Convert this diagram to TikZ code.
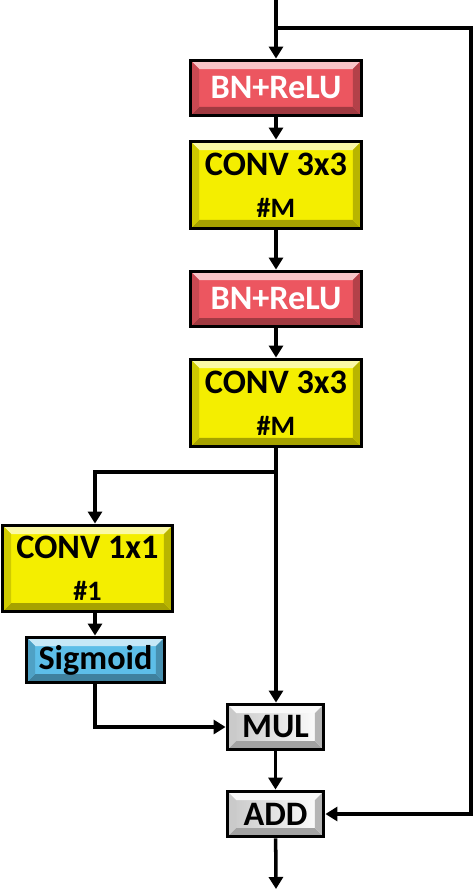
\documentclass[tikz,border=0pt]{standalone}
\usepackage{fontspec}
\setmainfont{Carlito}
\usepackage{tikz}
\usetikzlibrary{arrows.meta,positioning}
\definecolor{bnred}{HTML}{EC5660}
\definecolor{convyellow}{HTML}{F4EE00}
\definecolor{sigblue}{HTML}{5DBEE8}
\definecolor{opgray}{HTML}{EEEEEE}
\newcommand{\chn}[1]{{\fontsize{16}{18}\selectfont #1}}
\def\bw{0.17cm}
\tikzset{
  bevel/.style={path picture={
    \path (path picture bounding box.north west) coordinate (bvA)
          (path picture bounding box.north east) coordinate (bvB)
          (path picture bounding box.south east) coordinate (bvC)
          (path picture bounding box.south west) coordinate (bvD);
    \fill[#1!35!white] (bvA) -- (bvB) -- ([shift={(-\bw,-\bw)}]bvB) -- ([shift={(\bw,-\bw)}]bvA) -- cycle;
    \fill[#1!68!black] (bvD) -- (bvC) -- ([shift={(-\bw,\bw)}]bvC) -- ([shift={(\bw,\bw)}]bvD) -- cycle;
    \fill[#1!85!black] (bvA) -- (bvD) -- ([shift={(\bw,\bw)}]bvD) -- ([shift={(\bw,-\bw)}]bvA) -- cycle;
    \fill[#1!76!black] (bvB) -- (bvC) -- ([shift={(-\bw,\bw)}]bvC) -- ([shift={(-\bw,-\bw)}]bvB) -- cycle;
  }},
  block/.style={draw,line width=2.2pt,fill=#1,bevel=#1,inner sep=0pt,align=center,
    font=\fontsize{19.5}{24}\selectfont\bfseries},
  bnbox/.style={block=bnred,minimum width=3.42cm,minimum height=1.10cm,text=white},
  convbox/.style={block=convyellow,minimum width=3.42cm,minimum height=1.74cm},
  sigbox/.style={block=sigblue,minimum width=2.76cm,minimum height=0.90cm},
  opbox/.style={block=opgray,minimum width=1.92cm,minimum height=0.90cm}
}
\tikzstyle{arrow} = [line width=2pt,-{Triangle[length=0.24cm,width=0.28cm]}]

\begin{document}
\begin{tikzpicture}[x=0.02cm,y=-0.02cm]
  \useasboundingbox (0,0) rectangle (474,889);
  % main path
  \node[bnbox] (bn1) at (276,88) {BN+ReLU};
  \node[convbox] (conv1) at (276,185) {CONV 3x3\\\chn{\#M}};
  \node[bnbox] (bn2) at (276,299) {BN+ReLU};
  \node[convbox] (conv2) at (276,403) {CONV 3x3\\\chn{\#M}};
  % attention branch
  \node[convbox,minimum width=3.40cm,minimum height=1.72cm] (conv11) at (87.5,568.5) {CONV 1x1\\\chn{\#1}};
  \node[sigbox] (sig) at (95.5,660) {Sigmoid};
  \node[opbox,shading=axis,left color=opgray!65!gray,right color=white] (mul) at (275.5,727) {MUL};
  \node[opbox,shading=axis,left color=opgray!65!gray,right color=white] (add) at (275.5,814) {ADD};
  % coordinates
  \coordinate (in) at (276,0);
  \coordinate (skip) at (276,28);
  \coordinate (skipR) at (471,28);
  \coordinate (split) at (276,472);
  \coordinate (splitL) at (95,472);
  \coordinate (out) at (276,889);
  % connectors
  \draw[arrow] (in) -- (bn1);
  \draw[arrow] (bn1) -- (conv1);
  \draw[arrow] (conv1) -- (bn2);
  \draw[arrow] (bn2) -- (conv2);
  \draw[arrow] (conv2) -- (conv2 |- mul.north);
  \draw[arrow] (split) -- (splitL) -- (splitL |- conv11.north);
  \draw[arrow] (splitL |- conv11.south) -- (splitL |- sig.north);
  \draw[arrow] (splitL |- sig.south) -- (splitL |- mul) -- (mul.west);
  \draw[arrow] (mul) -- (add);
  \draw[arrow] (skip) -- (skipR) -- (skipR |- add) -- (add.east);
  \draw[arrow] (add) -- (out);
\end{tikzpicture}
\end{document}
